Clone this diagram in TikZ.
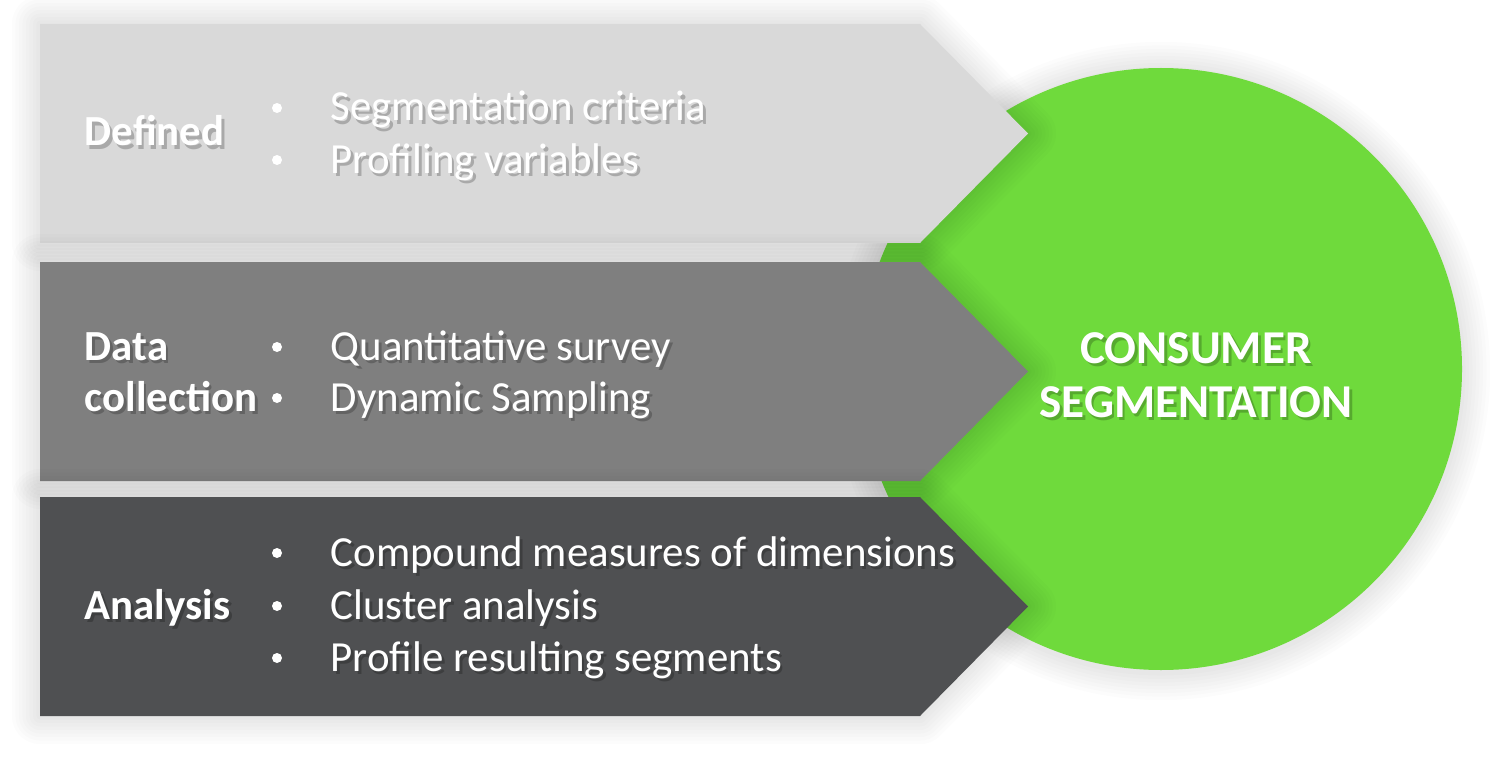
\documentclass[tikz,border=0pt]{standalone}
\usepackage{fontspec}
\setmainfont{Carlito}

\definecolor{lightband}{HTML}{D9D9D9}
\definecolor{midband}{HTML}{7F7F7F}
\definecolor{darkband}{HTML}{4F5052}
\definecolor{segreen}{HTML}{6FDA3C}

% chevron band, #1 = top edge
\newcommand{\chevron}[1]{(40,#1) -- (920,#1) -- (1028,#1+109.5) -- (920,#1+219) -- (40,#1+219) -- cycle}

\tikzset{
  halo/.style={black, opacity=0.012, line join=round},
  head/.style={anchor=base west, inner sep=0pt, text=white, font=\bfseries\fontsize{12.2}{15}\selectfont},
  item/.style={anchor=base west, inner sep=0pt, text=white, font=\fontsize{12.2}{15}\selectfont},
  txtshade/.style={text=black, text opacity=0.22, xshift=0.8pt, yshift=-0.9pt},
  dot/.style={circle, fill=white, inner sep=0pt, minimum size=0.1cm},
}

\begin{document}
\begin{tikzpicture}[x=0.01cm, y=-0.01cm]
  \fill[white] (0,0) rectangle (1500,776);
  \useasboundingbox (0,0) rectangle (1500,776);

  % the circle behind the three bands
  \foreach \w in {2,4,...,16}
    \draw[halo, line width=\w pt] (1161,371) circle (301);
  \fill[segreen] (1161,369) circle (301);
  \node[align=center, inner sep=0pt, txtshade,
        font=\bfseries\fontsize{13.4}{15.5}\selectfont] (segs) at (1196,375) {CONSUMER\\SEGMENTATION};
  \node[align=center, text=white, inner sep=0pt,
        font=\bfseries\fontsize{13.4}{15.5}\selectfont] (seg) at (1196,375) {CONSUMER\\SEGMENTATION};

  % three bands
  \foreach \top/\col in {24/lightband, 262/midband, 497/darkband} {
    \foreach \w in {2,4,...,16}
      \draw[halo, line width=\w pt] \chevron{\top};
    \fill[\col] \chevron{\top};
  }

  % headings
  \foreach \y/\txt/\nm in {146/Defined/def, 360/Data/dat1, 411/collection/dat2, 619/Analysis/ana} {
    \node[head, txtshade] (s\nm) at (84,\y) {\txt};
    \node[head] (\nm) at (84,\y) {\txt};
  }

  % bullet items
  \foreach \y/\txt/\nm in {121/Segmentation criteria/i1, 173/Profiling variables/i2,
      360/Quantitative survey/i3, 411/Dynamic Sampling/i4,
      566/Compound measures of dimensions/i5, 619/Cluster analysis/i6, 671/Profile resulting segments/i7} {
    \node[dot] (b\nm) at (277,\y-13) {};
    \node[item, txtshade] (s\nm) at (330,\y) {\txt};
    \node[item] (\nm) at (330,\y) {\txt};
  }
\end{tikzpicture}
\end{document}
